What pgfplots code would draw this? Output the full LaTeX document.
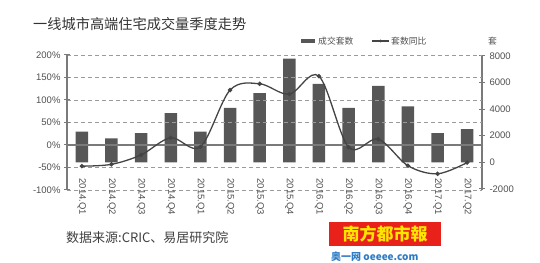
\documentclass[border=0pt]{standalone}
\usepackage{pgfplots}
\pgfplotsset{compat=1.18}
\usepackage{fontspec}
\setmainfont{Liberation Sans}
\newfontfamily\cjk{Noto Sans CJK SC}
\newfontfamily\cjktc{Noto Sans CJK TC}
\definecolor{barc}{HTML}{575757}
\definecolor{linec}{HTML}{444444}
\definecolor{gridc}{HTML}{9A9A9A}
\definecolor{axc}{HTML}{7A7A7A}
\definecolor{txt}{HTML}{505050}
\definecolor{logored}{HTML}{E8221B}
\definecolor{logoyel}{HTML}{FFE600}
\definecolor{logoblue}{HTML}{2E7BC4}
\begin{document}
\begin{tikzpicture}[x=1pt,y=1pt]
\path[use as bounding box] (0,0) rectangle (540,262);
% bars, right axis
\begin{axis}[at={(67pt,72pt)}, anchor=south west, width=415pt, height=135pt, scale only axis,
  xmin=-0.5, xmax=13.5, ymin=-2084, ymax=8074,
  axis y line*=right, axis x line=none,
  ytick={-2000,0,2000,4000,6000,8000},
  /pgf/number format/1000 sep={},
  /pgf/number format/assume math mode=true,
  y axis line style={axc, line width=1.1pt},
  ytick style={axc, line width=1pt}, ytick align=center, major tick length=6pt,
  yticklabel style={font=\fontsize{9.5}{10}\selectfont, text=txt, xshift=1pt},
  clip=false]
\addplot[ybar, bar width=12.5pt, fill=barc, draw=none] coordinates {
(0,2300) (1,1800) (2,2200) (3,3700) (4,2300) (5,4100) (6,5200)
(7,7800) (8,5900) (9,4100) (10,5750) (11,4200) (12,2200) (13,2500)};
\end{axis}
% line, left axis
\begin{axis}[at={(67pt,72pt)}, anchor=south west, width=415pt, height=135pt, scale only axis,
  xmin=-0.5, xmax=13.5, ymin=-100, ymax=200,
  axis y line*=left, axis x line*=bottom,
  x axis line style={draw=none},
  xtick={0,...,13}, xtick style={draw=none},
  xticklabels={2014.Q1,2014.Q2,2014.Q3,2014.Q4,2015.Q1,2015.Q2,2015.Q3,2015.Q4,2016.Q1,2016.Q2,2016.Q3,2016.Q4,2017.Q1,2017.Q2},
  xticklabel style={rotate=-90, anchor=west, font=\fontsize{9.5}{10}\selectfont, text=txt},
  xticklabel shift=-15pt,
  ytick={-100,-50,0,50,100,150,200},
  yticklabel={\pgfmathprintnumber{\tick}\%},
  /pgf/number format/assume math mode=true,
  yticklabel style={font=\fontsize{9.5}{10}\selectfont, text=txt},
  y axis line style={axc, line width=1.1pt},
  ytick style={axc, line width=1pt}, ytick align=center, major tick length=6pt,
  ymajorgrids, grid style={gridc, dashed, line width=0.9pt, dash pattern=on 4pt off 3pt},
  extra y ticks={0}, extra y tick labels={}, extra y tick style={grid style={axc, solid, line width=1.1pt}},
  clip=false]
\addplot[smooth, tension=0.55, color=linec, line width=1.3pt, mark=*, mark size=1.5pt, mark options={fill=linec}] coordinates {
(0,-47) (1,-43) (2,-22) (3,16) (4,-4) (5,122) (6,136)
(7,113) (8,153) (9,-5) (10,13) (11,-46) (12,-64) (13,-39)};
\end{axis}
% title
\node[anchor=west, text=black!80, font=\cjk\fontsize{14.2}{15}\selectfont, inner sep=0] at (33,238) {一线城市高端住宅成交量季度走势};
% legend
\fill[barc] (300.5,219) rectangle (315,222.5);
\node[anchor=west, inner sep=0, text=txt, font=\cjk\fontsize{8.8}{9}\selectfont] at (318,221) {成交套数};
\draw[linec, line width=1.2pt] (372,221) -- (389,221);
\fill[linec] (380.5,221) circle (1.5pt);
\node[anchor=west, inner sep=0, text=txt, font=\cjk\fontsize{8.8}{9}\selectfont] at (391,221) {套数同比};
\node[inner sep=0, text=txt, font=\cjk\fontsize{8.8}{9}\selectfont] at (492.5,221) {套};
% source
\node[anchor=west, inner sep=0, text=black!75, font=\cjk\fontsize{13}{14}\selectfont] at (66,24) {数据来源:CRIC、易居研究院};
% logo
\fill[logored] (329,16) rectangle (441,40);
\node[inner sep=0, text=logoyel, font=\cjktc\bfseries\fontsize{17}{18}\selectfont] at (385,28) {南方都市報};
\node[anchor=west, inner sep=0, text=logoblue, font=\cjk\bfseries\fontsize{10}{11}\selectfont] at (331,5) {奥一网 \itshape oeeee.com};
\end{tikzpicture}
\end{document}
